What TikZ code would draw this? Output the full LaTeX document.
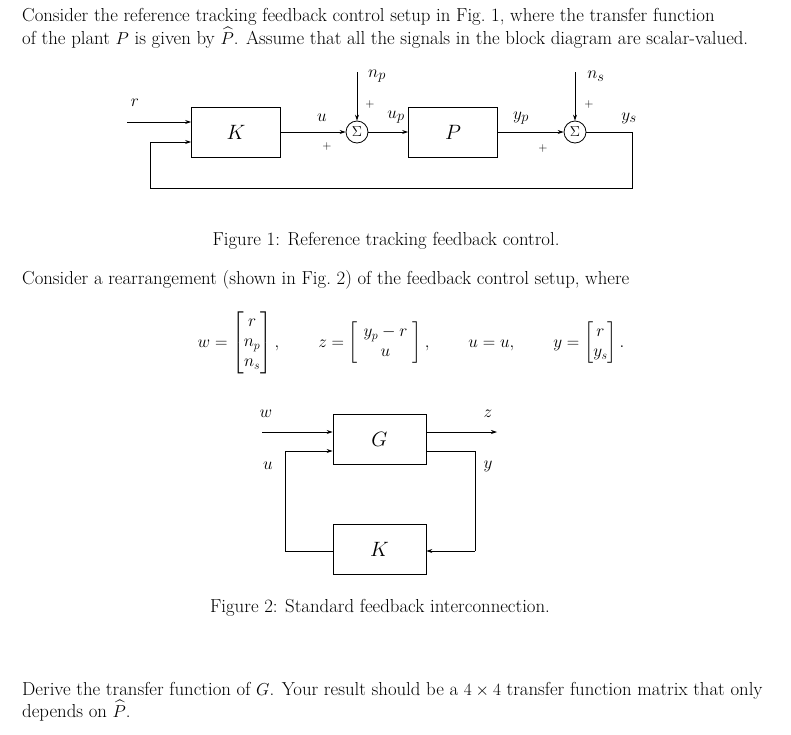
\documentclass[tikz,border=0pt]{standalone}
\usepackage{amsmath}
\usetikzlibrary{arrows.meta}
\begin{document}
\begin{tikzpicture}[x=1pt,y=-1pt,font=\fontsize{18.8}{21}\selectfont,
  blk/.style={draw,line width=0.8pt,minimum width=89pt,minimum height=50pt,font=\fontsize{20}{22}\selectfont},
  sumn/.style={draw,circle,line width=0.8pt,inner sep=0pt,minimum size=22pt,font=\fontsize{14}{16}\selectfont},
  ar/.style={-{Stealth[length=6pt,width=4pt]},line width=0.7pt},
  ln/.style={line width=0.7pt},
  lb/.style={font=\fontsize{19}{21}\selectfont},
  pl/.style={font=\fontsize{13}{15}\selectfont},
  tx/.style={anchor=base west,inner sep=0pt}]
\useasboundingbox (0,0) rectangle (791,734);
\node[tx] (t1) at (22,21) {Consider the reference tracking feedback control setup in Fig.~1, where the transfer function};
\node[tx] (t2) at (22,44) {of the plant $P$ is given by $\widehat{P}$. Assume that all the signals in the block diagram are scalar-valued.};
% Fig 1
\node[blk] (K1) at (236,132) {$K$};
\node[blk] (P1) at (453,132) {$P$};
\node[sumn] (s1) at (357,132) {$\Sigma$};
\node[sumn] (s2) at (575,132) {$\Sigma$};
\coordinate (rin) at (127,122);
\coordinate (np) at (357,72);
\coordinate (ns) at (575,72);
\coordinate (fr) at (632,132);
\coordinate (fb1) at (632,188);
\coordinate (fb2) at (150,188);
\coordinate (fb3) at (150,142);
\draw[ar] (rin) -- (rin -| K1.west);
\draw[ar] (K1.east) -- (s1.west);
\draw[ar] (np) -- (s1.north);
\draw[ar] (s1.east) -- (P1.west);
\draw[ar] (P1.east) -- (s2.west);
\draw[ar] (ns) -- (s2.north);
\draw[ln] (s2.east) -- (fr) -- (fb1) -- (fb2) -- (fb3);
\draw[ar] (fb3) -- (fb3 -| K1.west);
\node[lb] (lr) at (135,103) {$r$};
\node[lb] (lu) at (322,118) {$u$};
\node[pl] (p1) at (327,146) {$+$};
\node[lb] (lnp) at (377,76) {$n_p$};
\node[pl] (p2) at (370,104) {$+$};
\node[lb] (lup) at (396,117) {$u_p$};
\node[lb] (lyp) at (521,118) {$y_p$};
\node[pl] (p3) at (543,148) {$+$};
\node[lb] (lns) at (596,76) {$n_s$};
\node[pl] (p4) at (589,104) {$+$};
\node[lb] (lys) at (629,118) {$y_s$};
\node[anchor=base] (c1) at (386,245) {Figure 1: Reference tracking feedback control.};
\node[tx] (t3) at (22,284) {Consider a rearrangement (shown in Fig.~2) of the feedback control setup, where};
% equations
\node[anchor=base,font=\fontsize{18}{20}\selectfont] (eq) at (411,347)
 {$w=\begin{bmatrix} r\\ n_p\\ n_s\end{bmatrix},\qquad z=\begin{bmatrix}\ y_p-r\ \\ u\end{bmatrix},\qquad u=u,\qquad y=\begin{bmatrix} r\\ y_s\end{bmatrix}.$};
% Fig 2
\node[blk,minimum width=93pt] (G) at (379.5,439) {$G$};
\node[blk,minimum width=93pt] (K2) at (379.5,549) {$K$};
\coordinate (win) at (262,432);
\coordinate (zout) at (497,432);
\coordinate (ya) at (475,451);
\coordinate (yb) at (475,551);
\coordinate (ua) at (285,551);
\coordinate (ub) at (285,451);
\draw[ar] (win) -- (win -| G.west);
\draw[ar] (zout -| G.east) -- (zout);
\draw[ln] (ya -| G.east) -- (ya) -- (yb);
\draw[ar] (yb) -- (yb -| K2.east);
\draw[ln] (ua -| K2.west) -- (ua) -- (ub);
\draw[ar] (ub) -- (ub -| G.west);
\node[lb] (lw) at (266,414) {$w$};
\node[lb] (lu2) at (268,466) {$u$};
\node[lb] (lz) at (488,414) {$z$};
\node[lb] (ly) at (488,466) {$y$};
\node[anchor=base] (c2) at (380,612) {Figure 2: Standard feedback interconnection.};
\node[tx] (t4) at (22,695) {Derive the transfer function of $G$. Your result should be a $4\times4$ transfer function matrix that only};
\node[tx] (t5) at (22,717) {depends on $\widehat{P}$.};
\end{tikzpicture}
\end{document}
